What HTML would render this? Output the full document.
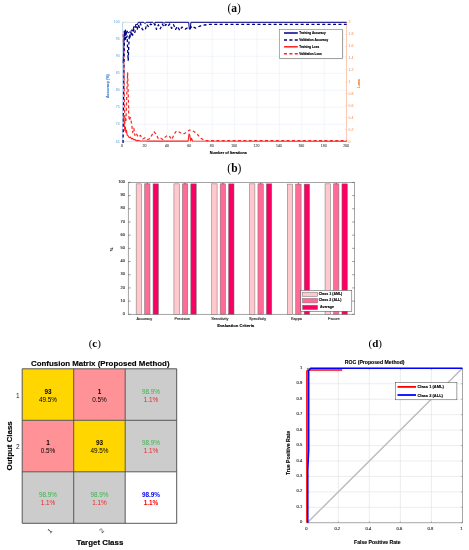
<!DOCTYPE html>
<html><head><meta charset="utf-8"><title>Figure</title>
<style>html,body{margin:0;padding:0;background:#fff;width:469px;height:550px;overflow:hidden}svg{display:block}</style>
</head><body>
<svg width="469" height="550" viewBox="0 0 469 550">
<defs><filter id="soft" x="-5%" y="-5%" width="110%" height="110%"><feGaussianBlur stdDeviation="0.3"/></filter></defs>
<g filter="url(#soft)"><text x="234.15" y="12.2" font-size="11.5" fill="#000" text-anchor="middle" font-weight="normal" font-family='"Liberation Serif", "Times New Roman", serif'  >(<tspan font-weight="bold">a</tspan>)</text>
<text x="234.4" y="171.8" font-size="11.5" fill="#000" text-anchor="middle" font-weight="normal" font-family='"Liberation Serif", "Times New Roman", serif'  >(<tspan font-weight="bold">b</tspan>)</text>
<text x="94.75" y="346.7" font-size="11" fill="#000" text-anchor="middle" font-weight="normal" font-family='"Liberation Serif", "Times New Roman", serif'  >(<tspan font-weight="bold">c</tspan>)</text>
<text x="375.3" y="346.5" font-size="11" fill="#000" text-anchor="middle" font-weight="normal" font-family='"Liberation Serif", "Times New Roman", serif'  >(<tspan font-weight="bold">d</tspan>)</text>
<line x1="145" y1="22.3" x2="145" y2="141.3" stroke="#e8eef7" stroke-width="0.6" />
<line x1="167.4" y1="22.3" x2="167.4" y2="141.3" stroke="#e8eef7" stroke-width="0.6" />
<line x1="189.8" y1="22.3" x2="189.8" y2="141.3" stroke="#e8eef7" stroke-width="0.6" />
<line x1="212.2" y1="22.3" x2="212.2" y2="141.3" stroke="#e8eef7" stroke-width="0.6" />
<line x1="234.6" y1="22.3" x2="234.6" y2="141.3" stroke="#e8eef7" stroke-width="0.6" />
<line x1="257" y1="22.3" x2="257" y2="141.3" stroke="#e8eef7" stroke-width="0.6" />
<line x1="279.4" y1="22.3" x2="279.4" y2="141.3" stroke="#e8eef7" stroke-width="0.6" />
<line x1="301.8" y1="22.3" x2="301.8" y2="141.3" stroke="#e8eef7" stroke-width="0.6" />
<line x1="324.2" y1="22.3" x2="324.2" y2="141.3" stroke="#e8eef7" stroke-width="0.6" />
<line x1="122.6" y1="124.3" x2="346.6" y2="124.3" stroke="#e8eef7" stroke-width="0.6" />
<line x1="122.6" y1="107.3" x2="346.6" y2="107.3" stroke="#e8eef7" stroke-width="0.6" />
<line x1="122.6" y1="90.3" x2="346.6" y2="90.3" stroke="#e8eef7" stroke-width="0.6" />
<line x1="122.6" y1="73.3" x2="346.6" y2="73.3" stroke="#e8eef7" stroke-width="0.6" />
<line x1="122.6" y1="56.3" x2="346.6" y2="56.3" stroke="#e8eef7" stroke-width="0.6" />
<line x1="122.6" y1="39.3" x2="346.6" y2="39.3" stroke="#e8eef7" stroke-width="0.6" />
<line x1="122.6" y1="22.3" x2="346.6" y2="22.3" stroke="#c8c8c8" stroke-width="0.6" />
<line x1="122.6" y1="141.3" x2="346.6" y2="141.3" stroke="#c8c8c8" stroke-width="0.6" />
<line x1="122.6" y1="22.3" x2="122.6" y2="141.3" stroke="#a9cbeb" stroke-width="0.8" />
<line x1="346.6" y1="22.3" x2="346.6" y2="141.3" stroke="#f6b89a" stroke-width="0.8" />
<line x1="122.6" y1="141.3" x2="124.1" y2="141.3" stroke="#a9cbeb" stroke-width="0.5" />
<line x1="122.6" y1="124.3" x2="124.1" y2="124.3" stroke="#a9cbeb" stroke-width="0.5" />
<line x1="122.6" y1="107.3" x2="124.1" y2="107.3" stroke="#a9cbeb" stroke-width="0.5" />
<line x1="122.6" y1="90.3" x2="124.1" y2="90.3" stroke="#a9cbeb" stroke-width="0.5" />
<line x1="122.6" y1="73.3" x2="124.1" y2="73.3" stroke="#a9cbeb" stroke-width="0.5" />
<line x1="122.6" y1="56.3" x2="124.1" y2="56.3" stroke="#a9cbeb" stroke-width="0.5" />
<line x1="122.6" y1="39.3" x2="124.1" y2="39.3" stroke="#a9cbeb" stroke-width="0.5" />
<line x1="122.6" y1="22.3" x2="124.1" y2="22.3" stroke="#a9cbeb" stroke-width="0.5" />
<line x1="345.1" y1="141.3" x2="346.6" y2="141.3" stroke="#f6b89a" stroke-width="0.5" />
<line x1="345.1" y1="129.4" x2="346.6" y2="129.4" stroke="#f6b89a" stroke-width="0.5" />
<line x1="345.1" y1="117.5" x2="346.6" y2="117.5" stroke="#f6b89a" stroke-width="0.5" />
<line x1="345.1" y1="105.6" x2="346.6" y2="105.6" stroke="#f6b89a" stroke-width="0.5" />
<line x1="345.1" y1="93.7" x2="346.6" y2="93.7" stroke="#f6b89a" stroke-width="0.5" />
<line x1="345.1" y1="81.8" x2="346.6" y2="81.8" stroke="#f6b89a" stroke-width="0.5" />
<line x1="345.1" y1="69.9" x2="346.6" y2="69.9" stroke="#f6b89a" stroke-width="0.5" />
<line x1="345.1" y1="58" x2="346.6" y2="58" stroke="#f6b89a" stroke-width="0.5" />
<line x1="345.1" y1="46.1" x2="346.6" y2="46.1" stroke="#f6b89a" stroke-width="0.5" />
<line x1="345.1" y1="34.2" x2="346.6" y2="34.2" stroke="#f6b89a" stroke-width="0.5" />
<line x1="345.1" y1="22.3" x2="346.6" y2="22.3" stroke="#f6b89a" stroke-width="0.5" />
<text x="119.6" y="142.52" font-size="3.5" fill="#5b9bd5" text-anchor="end" font-weight="normal" font-family='"Liberation Sans", Arial, sans-serif'  >65</text>
<text x="119.6" y="125.41" font-size="3.5" fill="#5b9bd5" text-anchor="end" font-weight="normal" font-family='"Liberation Sans", Arial, sans-serif'  >70</text>
<text x="119.6" y="108.3" font-size="3.5" fill="#5b9bd5" text-anchor="end" font-weight="normal" font-family='"Liberation Sans", Arial, sans-serif'  >75</text>
<text x="119.6" y="91.19" font-size="3.5" fill="#5b9bd5" text-anchor="end" font-weight="normal" font-family='"Liberation Sans", Arial, sans-serif'  >80</text>
<text x="119.6" y="74.08" font-size="3.5" fill="#5b9bd5" text-anchor="end" font-weight="normal" font-family='"Liberation Sans", Arial, sans-serif'  >85</text>
<text x="119.6" y="56.97" font-size="3.5" fill="#5b9bd5" text-anchor="end" font-weight="normal" font-family='"Liberation Sans", Arial, sans-serif'  >90</text>
<text x="119.6" y="39.86" font-size="3.5" fill="#5b9bd5" text-anchor="end" font-weight="normal" font-family='"Liberation Sans", Arial, sans-serif'  >95</text>
<text x="119.6" y="22.75" font-size="3.5" fill="#5b9bd5" text-anchor="end" font-weight="normal" font-family='"Liberation Sans", Arial, sans-serif'  >100</text>
<text x="348.6" y="142.85" font-size="3.5" fill="#f0884a" text-anchor="start" font-weight="normal" font-family='"Liberation Sans", Arial, sans-serif'  >0</text>
<text x="348.6" y="130.82" font-size="3.5" fill="#f0884a" text-anchor="start" font-weight="normal" font-family='"Liberation Sans", Arial, sans-serif'  >0.2</text>
<text x="348.6" y="118.79" font-size="3.5" fill="#f0884a" text-anchor="start" font-weight="normal" font-family='"Liberation Sans", Arial, sans-serif'  >0.4</text>
<text x="348.6" y="106.76" font-size="3.5" fill="#f0884a" text-anchor="start" font-weight="normal" font-family='"Liberation Sans", Arial, sans-serif'  >0.6</text>
<text x="348.6" y="94.73" font-size="3.5" fill="#f0884a" text-anchor="start" font-weight="normal" font-family='"Liberation Sans", Arial, sans-serif'  >0.8</text>
<text x="348.6" y="82.7" font-size="3.5" fill="#f0884a" text-anchor="start" font-weight="normal" font-family='"Liberation Sans", Arial, sans-serif'  >1</text>
<text x="348.6" y="70.67" font-size="3.5" fill="#f0884a" text-anchor="start" font-weight="normal" font-family='"Liberation Sans", Arial, sans-serif'  >1.2</text>
<text x="348.6" y="58.64" font-size="3.5" fill="#f0884a" text-anchor="start" font-weight="normal" font-family='"Liberation Sans", Arial, sans-serif'  >1.4</text>
<text x="348.6" y="46.61" font-size="3.5" fill="#f0884a" text-anchor="start" font-weight="normal" font-family='"Liberation Sans", Arial, sans-serif'  >1.6</text>
<text x="348.6" y="34.58" font-size="3.5" fill="#f0884a" text-anchor="start" font-weight="normal" font-family='"Liberation Sans", Arial, sans-serif'  >1.8</text>
<text x="348.6" y="22.55" font-size="3.5" fill="#f0884a" text-anchor="start" font-weight="normal" font-family='"Liberation Sans", Arial, sans-serif'  >2</text>
<text x="122.1" y="146.9" font-size="3.5" fill="#595959" text-anchor="middle" font-weight="normal" font-family='"Liberation Sans", Arial, sans-serif' stroke="#595959" stroke-width="0.12" >0</text>
<text x="144.5" y="146.9" font-size="3.5" fill="#595959" text-anchor="middle" font-weight="normal" font-family='"Liberation Sans", Arial, sans-serif' stroke="#595959" stroke-width="0.12" >20</text>
<text x="166.9" y="146.9" font-size="3.5" fill="#595959" text-anchor="middle" font-weight="normal" font-family='"Liberation Sans", Arial, sans-serif' stroke="#595959" stroke-width="0.12" >40</text>
<text x="189.3" y="146.9" font-size="3.5" fill="#595959" text-anchor="middle" font-weight="normal" font-family='"Liberation Sans", Arial, sans-serif' stroke="#595959" stroke-width="0.12" >60</text>
<text x="211.7" y="146.9" font-size="3.5" fill="#595959" text-anchor="middle" font-weight="normal" font-family='"Liberation Sans", Arial, sans-serif' stroke="#595959" stroke-width="0.12" >80</text>
<text x="234.1" y="146.9" font-size="3.5" fill="#595959" text-anchor="middle" font-weight="normal" font-family='"Liberation Sans", Arial, sans-serif' stroke="#595959" stroke-width="0.12" >100</text>
<text x="256.5" y="146.9" font-size="3.5" fill="#595959" text-anchor="middle" font-weight="normal" font-family='"Liberation Sans", Arial, sans-serif' stroke="#595959" stroke-width="0.12" >120</text>
<text x="278.9" y="146.9" font-size="3.5" fill="#595959" text-anchor="middle" font-weight="normal" font-family='"Liberation Sans", Arial, sans-serif' stroke="#595959" stroke-width="0.12" >140</text>
<text x="301.3" y="146.9" font-size="3.5" fill="#595959" text-anchor="middle" font-weight="normal" font-family='"Liberation Sans", Arial, sans-serif' stroke="#595959" stroke-width="0.12" >160</text>
<text x="323.7" y="146.9" font-size="3.5" fill="#595959" text-anchor="middle" font-weight="normal" font-family='"Liberation Sans", Arial, sans-serif' stroke="#595959" stroke-width="0.12" >180</text>
<text x="346.1" y="146.9" font-size="3.5" fill="#595959" text-anchor="middle" font-weight="normal" font-family='"Liberation Sans", Arial, sans-serif' stroke="#595959" stroke-width="0.12" >200</text>
<text x="228.4" y="153.6" font-size="3.8" fill="#000" text-anchor="middle" font-weight="bold" font-family='"Liberation Sans", Arial, sans-serif' stroke="#000" stroke-width="0.12" >Number of Iterations</text>
<text x="108.85" y="86" font-size="3.75" fill="#3b82cc" text-anchor="middle" font-weight="bold" font-family='"Liberation Sans", Arial, sans-serif' stroke="#3b82cc" stroke-width="0.12" transform="rotate(-90 108.85 86)">Accuracy (%)</text>
<text x="359.75" y="83.5" font-size="3.75" fill="#ed7d31" text-anchor="middle" font-weight="bold" font-family='"Liberation Sans", Arial, sans-serif' stroke="#ed7d31" stroke-width="0.12" transform="rotate(-90 359.75 83.5)">Loss</text>
<polyline points="123.16,63.1 123.72,49.5 124.28,30.8 124.84,35.9 125.4,29.78 125.96,34.2 127.08,30.8 128.2,33.18 129.32,31.82 130.44,32.84 131.56,29.78 132.68,31.14 133.8,26.38 134.92,27.4 136.04,24 137.16,25.02 138.28,22.3 143.88,22.3 145,23.66 146.12,22.3 152.84,22.3 153.96,23.66 155.08,22.3 162.92,22.3 164.04,23.32 165.16,22.3 188.68,22.3 189.35,29.1 190.25,29.1 190.92,22.3 346.6,22.3" fill="none" stroke="#000080" stroke-width="1.0"  stroke-linejoin="round" />
<polyline points="123.05,143 123.5,110.7 123.94,69.9 124.39,39.3 124.84,34.2 125.4,39.3 125.96,33.18 126.52,37.6 127.08,35.9 127.64,49.5 128.2,60.72 128.76,46.1 129.32,34.2 130.44,37.6 131.56,31.82 132.68,35.22 133.8,29.1 134.92,32.5 136.04,26.38 137.16,29.78 138.28,24.68 139.4,27.4 140.52,23.66 142.2,29.1 143.6,30.46 145.45,29.1 146.68,24.34 148.7,27.06 150.6,24 153.85,25.7 155.08,24 156.42,29.44 158.44,24.68 160.23,28.76 162.36,24 164.04,27.06 165.72,24.34 167.85,26.38 169.64,24 171.66,28.42 173.56,24.68 175.58,29.44 177.48,26.38 179.72,30.46 181.96,27.06 185.32,29.1 187.56,27.74 189.8,28.76 192.04,26.04 195.4,28.08 199.88,26.04 204.36,25.02 209.96,24.34 346.6,24.34" fill="none" stroke="#000080" stroke-width="1.3" stroke-dasharray="3,2.4" stroke-linejoin="round" />
<polyline points="123.05,116.31 123.5,115.12 123.94,119.88 124.39,126.43 124.84,130.59 125.4,127.02 125.96,132.38 126.52,130.59 127.08,134.76 128.2,135.95 129.32,137.73 130.44,137.14 131.56,138.92 132.68,138.33 133.8,139.81 134.92,139.52 136.04,140.59 138.28,140.41 140.52,141 145,140.94 149.48,141.12 188.12,141.12 189.02,134.16 189.8,135.35 190.58,140.71 191.59,138.33 192.49,141 346.6,141.18" fill="none" stroke="#ff2020" stroke-width="1.1"  stroke-linejoin="round" />
<polyline points="123.16,34.2 123.72,52.05 124.28,93.7 124.84,123.45 125.4,117.5 125.96,120.48 127.08,84.78 127.64,72.88 128.2,93.7 128.76,114.53 129.32,120.48 130.44,117.5 131.56,123.45 132.68,132.38 133.8,128.21 134.92,135.35 136.04,132.97 138.28,137.14 140.52,135.35 142.76,138.92 145,137.73 147.24,139.52 149.48,138.92 151.72,135.35 153.96,131.78 156.2,134.16 158.44,138.92 160.68,138.33 162.92,139.52 165.16,137.14 167.4,135.35 169.64,136.54 171.88,139.52 174.12,134.16 176.36,131.19 178.6,131.78 180.84,132.97 183.08,134.16 185.32,132.97 187.56,131.19 189.8,130 192.04,130.59 194.28,131.78 196.52,133.56 198.76,135.95 201,138.33 203.24,139.81 205.48,140.59 209.96,140.71 346.6,140.71" fill="none" stroke="#ff2020" stroke-width="1.2" stroke-dasharray="3,2.4" stroke-linejoin="round" />
<rect x="280.2" y="30.1" width="63" height="29" fill="#808080" stroke="none" stroke-width="1" opacity="0.35"/>
<rect x="279.4" y="29.3" width="63" height="29" fill="#fff" stroke="#606060" stroke-width="0.5" />
<line x1="284" y1="33" x2="297.8" y2="33" stroke="#000080" stroke-width="1.5" />
<text x="299.3" y="34.1" font-size="3.05" fill="#000" text-anchor="start" font-weight="bold" font-family='"Liberation Sans", Arial, sans-serif' stroke="#000" stroke-width="0.12" >Training Accuracy</text>
<line x1="284" y1="39.9" x2="297.8" y2="39.9" stroke="#000080" stroke-width="1.5" stroke-dasharray="3,2.4"/>
<text x="299.3" y="41" font-size="3.05" fill="#000" text-anchor="start" font-weight="bold" font-family='"Liberation Sans", Arial, sans-serif' stroke="#000" stroke-width="0.12" >Validation Accuracy</text>
<line x1="284" y1="46.8" x2="297.8" y2="46.8" stroke="#ff2020" stroke-width="1.5" />
<text x="299.3" y="47.9" font-size="3.05" fill="#000" text-anchor="start" font-weight="bold" font-family='"Liberation Sans", Arial, sans-serif' stroke="#000" stroke-width="0.12" >Training Loss</text>
<line x1="284" y1="53.7" x2="297.8" y2="53.7" stroke="#ff2020" stroke-width="1.5" stroke-dasharray="3,2.4"/>
<text x="299.3" y="54.8" font-size="3.05" fill="#000" text-anchor="start" font-weight="bold" font-family='"Liberation Sans", Arial, sans-serif' stroke="#000" stroke-width="0.12" >Validation Loss</text>
<rect x="128.3" y="182.4" width="226.2" height="131.9" fill="#fff" stroke="#7f7f7f" stroke-width="0.7" />
<line x1="128.3" y1="314.3" x2="130.6" y2="314.3" stroke="#555" stroke-width="0.6" />
<line x1="352.2" y1="314.3" x2="354.5" y2="314.3" stroke="#555" stroke-width="0.6" />
<text x="124.9" y="314.9" font-size="3.9" fill="#262626" text-anchor="end" font-weight="normal" font-family='"Liberation Sans", Arial, sans-serif' stroke="#262626" stroke-width="0.12" >0</text>
<line x1="128.3" y1="301.11" x2="130.6" y2="301.11" stroke="#555" stroke-width="0.6" />
<line x1="352.2" y1="301.11" x2="354.5" y2="301.11" stroke="#555" stroke-width="0.6" />
<text x="124.9" y="301.71" font-size="3.9" fill="#262626" text-anchor="end" font-weight="normal" font-family='"Liberation Sans", Arial, sans-serif' stroke="#262626" stroke-width="0.12" >10</text>
<line x1="128.3" y1="287.92" x2="130.6" y2="287.92" stroke="#555" stroke-width="0.6" />
<line x1="352.2" y1="287.92" x2="354.5" y2="287.92" stroke="#555" stroke-width="0.6" />
<text x="124.9" y="288.52" font-size="3.9" fill="#262626" text-anchor="end" font-weight="normal" font-family='"Liberation Sans", Arial, sans-serif' stroke="#262626" stroke-width="0.12" >20</text>
<line x1="128.3" y1="274.73" x2="130.6" y2="274.73" stroke="#555" stroke-width="0.6" />
<line x1="352.2" y1="274.73" x2="354.5" y2="274.73" stroke="#555" stroke-width="0.6" />
<text x="124.9" y="275.33" font-size="3.9" fill="#262626" text-anchor="end" font-weight="normal" font-family='"Liberation Sans", Arial, sans-serif' stroke="#262626" stroke-width="0.12" >30</text>
<line x1="128.3" y1="261.54" x2="130.6" y2="261.54" stroke="#555" stroke-width="0.6" />
<line x1="352.2" y1="261.54" x2="354.5" y2="261.54" stroke="#555" stroke-width="0.6" />
<text x="124.9" y="262.14" font-size="3.9" fill="#262626" text-anchor="end" font-weight="normal" font-family='"Liberation Sans", Arial, sans-serif' stroke="#262626" stroke-width="0.12" >40</text>
<line x1="128.3" y1="248.35" x2="130.6" y2="248.35" stroke="#555" stroke-width="0.6" />
<line x1="352.2" y1="248.35" x2="354.5" y2="248.35" stroke="#555" stroke-width="0.6" />
<text x="124.9" y="248.95" font-size="3.9" fill="#262626" text-anchor="end" font-weight="normal" font-family='"Liberation Sans", Arial, sans-serif' stroke="#262626" stroke-width="0.12" >50</text>
<line x1="128.3" y1="235.16" x2="130.6" y2="235.16" stroke="#555" stroke-width="0.6" />
<line x1="352.2" y1="235.16" x2="354.5" y2="235.16" stroke="#555" stroke-width="0.6" />
<text x="124.9" y="235.76" font-size="3.9" fill="#262626" text-anchor="end" font-weight="normal" font-family='"Liberation Sans", Arial, sans-serif' stroke="#262626" stroke-width="0.12" >60</text>
<line x1="128.3" y1="221.97" x2="130.6" y2="221.97" stroke="#555" stroke-width="0.6" />
<line x1="352.2" y1="221.97" x2="354.5" y2="221.97" stroke="#555" stroke-width="0.6" />
<text x="124.9" y="222.57" font-size="3.9" fill="#262626" text-anchor="end" font-weight="normal" font-family='"Liberation Sans", Arial, sans-serif' stroke="#262626" stroke-width="0.12" >70</text>
<line x1="128.3" y1="208.78" x2="130.6" y2="208.78" stroke="#555" stroke-width="0.6" />
<line x1="352.2" y1="208.78" x2="354.5" y2="208.78" stroke="#555" stroke-width="0.6" />
<text x="124.9" y="209.38" font-size="3.9" fill="#262626" text-anchor="end" font-weight="normal" font-family='"Liberation Sans", Arial, sans-serif' stroke="#262626" stroke-width="0.12" >80</text>
<line x1="128.3" y1="195.59" x2="130.6" y2="195.59" stroke="#555" stroke-width="0.6" />
<line x1="352.2" y1="195.59" x2="354.5" y2="195.59" stroke="#555" stroke-width="0.6" />
<text x="124.9" y="196.19" font-size="3.9" fill="#262626" text-anchor="end" font-weight="normal" font-family='"Liberation Sans", Arial, sans-serif' stroke="#262626" stroke-width="0.12" >90</text>
<line x1="128.3" y1="182.4" x2="130.6" y2="182.4" stroke="#555" stroke-width="0.6" />
<line x1="352.2" y1="182.4" x2="354.5" y2="182.4" stroke="#555" stroke-width="0.6" />
<text x="124.9" y="183" font-size="3.9" fill="#262626" text-anchor="end" font-weight="normal" font-family='"Liberation Sans", Arial, sans-serif' stroke="#262626" stroke-width="0.12" >100</text>
<rect x="136.15" y="183.85" width="5.4" height="130.45" fill="#ffc8cc" stroke="#6f6f6f" stroke-width="0.5" />
<rect x="144.6" y="183.85" width="5.4" height="130.45" fill="#ff6a96" stroke="#6f6f6f" stroke-width="0.5" />
<rect x="153.05" y="183.85" width="5.4" height="130.45" fill="#fa0062" stroke="#6f6f6f" stroke-width="0.5" />
<line x1="147.3" y1="183.32" x2="147.3" y2="184.38" stroke="#333" stroke-width="0.4" />
<line x1="146.5" y1="183.32" x2="148.1" y2="183.32" stroke="#333" stroke-width="0.4" />
<text x="144.3" y="319.6" font-size="3.8" fill="#262626" text-anchor="middle" font-weight="normal" font-family='"Liberation Sans", Arial, sans-serif' stroke="#262626" stroke-width="0.12" >Accuracy</text>
<line x1="147.3" y1="314.3" x2="147.3" y2="312.8" stroke="#7f7f7f" stroke-width="0.5" />
<rect x="173.93" y="183.85" width="5.4" height="130.45" fill="#ffc8cc" stroke="#6f6f6f" stroke-width="0.5" />
<rect x="182.38" y="183.85" width="5.4" height="130.45" fill="#ff6a96" stroke="#6f6f6f" stroke-width="0.5" />
<rect x="190.83" y="183.85" width="5.4" height="130.45" fill="#fa0062" stroke="#6f6f6f" stroke-width="0.5" />
<line x1="185.08" y1="183.32" x2="185.08" y2="184.38" stroke="#333" stroke-width="0.4" />
<line x1="184.28" y1="183.32" x2="185.88" y2="183.32" stroke="#333" stroke-width="0.4" />
<text x="182.38" y="319.6" font-size="3.8" fill="#262626" text-anchor="middle" font-weight="normal" font-family='"Liberation Sans", Arial, sans-serif' stroke="#262626" stroke-width="0.12" >Precision</text>
<line x1="185.08" y1="314.3" x2="185.08" y2="312.8" stroke="#7f7f7f" stroke-width="0.5" />
<rect x="211.71" y="183.85" width="5.4" height="130.45" fill="#ffc8cc" stroke="#6f6f6f" stroke-width="0.5" />
<rect x="220.16" y="183.85" width="5.4" height="130.45" fill="#ff6a96" stroke="#6f6f6f" stroke-width="0.5" />
<rect x="228.61" y="183.85" width="5.4" height="130.45" fill="#fa0062" stroke="#6f6f6f" stroke-width="0.5" />
<line x1="222.86" y1="183.32" x2="222.86" y2="184.38" stroke="#333" stroke-width="0.4" />
<line x1="222.06" y1="183.32" x2="223.66" y2="183.32" stroke="#333" stroke-width="0.4" />
<text x="219.86" y="319.6" font-size="3.8" fill="#262626" text-anchor="middle" font-weight="normal" font-family='"Liberation Sans", Arial, sans-serif' stroke="#262626" stroke-width="0.12" >Sensitivity</text>
<line x1="222.86" y1="314.3" x2="222.86" y2="312.8" stroke="#7f7f7f" stroke-width="0.5" />
<rect x="249.49" y="183.85" width="5.4" height="130.45" fill="#ffc8cc" stroke="#6f6f6f" stroke-width="0.5" />
<rect x="257.94" y="183.85" width="5.4" height="130.45" fill="#ff6a96" stroke="#6f6f6f" stroke-width="0.5" />
<rect x="266.39" y="183.85" width="5.4" height="130.45" fill="#fa0062" stroke="#6f6f6f" stroke-width="0.5" />
<line x1="260.64" y1="183.32" x2="260.64" y2="184.38" stroke="#333" stroke-width="0.4" />
<line x1="259.84" y1="183.32" x2="261.44" y2="183.32" stroke="#333" stroke-width="0.4" />
<text x="257.64" y="319.6" font-size="3.8" fill="#262626" text-anchor="middle" font-weight="normal" font-family='"Liberation Sans", Arial, sans-serif' stroke="#262626" stroke-width="0.12" >Specificity</text>
<line x1="260.64" y1="314.3" x2="260.64" y2="312.8" stroke="#7f7f7f" stroke-width="0.5" />
<rect x="287.27" y="184.11" width="5.4" height="130.19" fill="#ffc8cc" stroke="#6f6f6f" stroke-width="0.5" />
<rect x="295.72" y="184.11" width="5.4" height="130.19" fill="#ff6a96" stroke="#6f6f6f" stroke-width="0.5" />
<rect x="304.17" y="184.11" width="5.4" height="130.19" fill="#fa0062" stroke="#6f6f6f" stroke-width="0.5" />
<line x1="298.42" y1="183.32" x2="298.42" y2="184.38" stroke="#333" stroke-width="0.4" />
<line x1="297.62" y1="183.32" x2="299.22" y2="183.32" stroke="#333" stroke-width="0.4" />
<text x="296.42" y="320.2" font-size="3.8" fill="#262626" text-anchor="middle" font-weight="normal" font-family='"Liberation Sans", Arial, sans-serif' stroke="#262626" stroke-width="0.12" >Kappa</text>
<line x1="298.42" y1="314.3" x2="298.42" y2="312.8" stroke="#7f7f7f" stroke-width="0.5" />
<rect x="325.05" y="183.85" width="5.4" height="130.45" fill="#ffc8cc" stroke="#6f6f6f" stroke-width="0.5" />
<rect x="333.5" y="183.85" width="5.4" height="130.45" fill="#ff6a96" stroke="#6f6f6f" stroke-width="0.5" />
<rect x="341.95" y="183.85" width="5.4" height="130.45" fill="#fa0062" stroke="#6f6f6f" stroke-width="0.5" />
<line x1="336.2" y1="183.32" x2="336.2" y2="184.38" stroke="#333" stroke-width="0.4" />
<line x1="335.4" y1="183.32" x2="337" y2="183.32" stroke="#333" stroke-width="0.4" />
<text x="333.9" y="319.6" font-size="3.8" fill="#262626" text-anchor="middle" font-weight="normal" font-family='"Liberation Sans", Arial, sans-serif' stroke="#262626" stroke-width="0.12" >Fscore</text>
<line x1="336.2" y1="314.3" x2="336.2" y2="312.8" stroke="#7f7f7f" stroke-width="0.5" />
<text x="235.7" y="326.9" font-size="4.2" fill="#000" text-anchor="middle" font-weight="bold" font-family='"Liberation Sans", Arial, sans-serif' stroke="#000" stroke-width="0.12" >Evaluation Criteria</text>
<text x="112.5" y="249.5" font-size="4.0" fill="#000" text-anchor="middle" font-weight="normal" font-family='"Liberation Sans", Arial, sans-serif' stroke="#000" stroke-width="0.12" transform="rotate(-90 112.5 249.5)">%</text>
<rect x="300.8" y="290.3" width="51" height="21" fill="#fff" stroke="#404040" stroke-width="0.5" />
<rect x="302.6" y="292.2" width="15" height="4.4" fill="#ffc8cc" stroke="#6f6f6f" stroke-width="0.5" />
<text x="318.8" y="294.8" font-size="3.55" fill="#000" text-anchor="start" font-weight="bold" font-family='"Liberation Sans", Arial, sans-serif' stroke="#000" stroke-width="0.12" >Class 1 (AML)</text>
<rect x="302.6" y="298.5" width="15" height="4.4" fill="#ff6a96" stroke="#6f6f6f" stroke-width="0.5" />
<text x="318.8" y="301.1" font-size="3.55" fill="#000" text-anchor="start" font-weight="bold" font-family='"Liberation Sans", Arial, sans-serif' stroke="#000" stroke-width="0.12" >Class 2 (ALL)</text>
<rect x="302.6" y="305.2" width="15" height="4.4" fill="#fa0062" stroke="#6f6f6f" stroke-width="0.5" />
<text x="320" y="307.8" font-size="3.55" fill="#000" text-anchor="start" font-weight="bold" font-family='"Liberation Sans", Arial, sans-serif' stroke="#000" stroke-width="0.12" >Average</text>
<rect x="22.2" y="368.8" width="51.5" height="51.5" fill="#ffd600" stroke="none" stroke-width="1" />
<text x="47.95" y="393.55" font-size="6.4" fill="#000" text-anchor="middle" font-weight="bold" font-family='"Liberation Sans", Arial, sans-serif'  >93</text>
<text x="47.95" y="401.75" font-size="6.4" fill="#000" text-anchor="middle" font-weight="normal" font-family='"Liberation Sans", Arial, sans-serif'  >49.5%</text>
<rect x="73.7" y="368.8" width="51.5" height="51.5" fill="#fe9296" stroke="none" stroke-width="1" />
<text x="99.45" y="393.55" font-size="6.4" fill="#000" text-anchor="middle" font-weight="bold" font-family='"Liberation Sans", Arial, sans-serif'  >1</text>
<text x="99.45" y="401.75" font-size="6.4" fill="#000" text-anchor="middle" font-weight="normal" font-family='"Liberation Sans", Arial, sans-serif'  >0.5%</text>
<rect x="125.2" y="368.8" width="51.5" height="51.5" fill="#cccccc" stroke="none" stroke-width="1" />
<text x="150.95" y="393.55" font-size="6.4" fill="#3cb44b" text-anchor="middle" font-weight="normal" font-family='"Liberation Sans", Arial, sans-serif'  >98.9%</text>
<text x="150.95" y="401.75" font-size="6.4" fill="#e8272b" text-anchor="middle" font-weight="normal" font-family='"Liberation Sans", Arial, sans-serif'  >1.1%</text>
<rect x="22.2" y="420.3" width="51.5" height="51.5" fill="#fe9296" stroke="none" stroke-width="1" />
<text x="47.95" y="445.05" font-size="6.4" fill="#000" text-anchor="middle" font-weight="bold" font-family='"Liberation Sans", Arial, sans-serif'  >1</text>
<text x="47.95" y="453.25" font-size="6.4" fill="#000" text-anchor="middle" font-weight="normal" font-family='"Liberation Sans", Arial, sans-serif'  >0.5%</text>
<rect x="73.7" y="420.3" width="51.5" height="51.5" fill="#ffd600" stroke="none" stroke-width="1" />
<text x="99.45" y="445.05" font-size="6.4" fill="#000" text-anchor="middle" font-weight="bold" font-family='"Liberation Sans", Arial, sans-serif'  >93</text>
<text x="99.45" y="453.25" font-size="6.4" fill="#000" text-anchor="middle" font-weight="normal" font-family='"Liberation Sans", Arial, sans-serif'  >49.5%</text>
<rect x="125.2" y="420.3" width="51.5" height="51.5" fill="#cccccc" stroke="none" stroke-width="1" />
<text x="150.95" y="445.05" font-size="6.4" fill="#3cb44b" text-anchor="middle" font-weight="normal" font-family='"Liberation Sans", Arial, sans-serif'  >98.9%</text>
<text x="150.95" y="453.25" font-size="6.4" fill="#e8272b" text-anchor="middle" font-weight="normal" font-family='"Liberation Sans", Arial, sans-serif'  >1.1%</text>
<rect x="22.2" y="471.8" width="51.5" height="51.5" fill="#cccccc" stroke="none" stroke-width="1" />
<text x="47.95" y="496.55" font-size="6.4" fill="#3cb44b" text-anchor="middle" font-weight="normal" font-family='"Liberation Sans", Arial, sans-serif'  >98.9%</text>
<text x="47.95" y="504.75" font-size="6.4" fill="#e8272b" text-anchor="middle" font-weight="normal" font-family='"Liberation Sans", Arial, sans-serif'  >1.1%</text>
<rect x="73.7" y="471.8" width="51.5" height="51.5" fill="#cccccc" stroke="none" stroke-width="1" />
<text x="99.45" y="496.55" font-size="6.4" fill="#3cb44b" text-anchor="middle" font-weight="normal" font-family='"Liberation Sans", Arial, sans-serif'  >98.9%</text>
<text x="99.45" y="504.75" font-size="6.4" fill="#e8272b" text-anchor="middle" font-weight="normal" font-family='"Liberation Sans", Arial, sans-serif'  >1.1%</text>
<rect x="125.2" y="471.8" width="51.5" height="51.5" fill="#ffffff" stroke="none" stroke-width="1" />
<text x="150.95" y="496.55" font-size="6.4" fill="#0000ff" text-anchor="middle" font-weight="bold" font-family='"Liberation Sans", Arial, sans-serif'  >98.9%</text>
<text x="150.95" y="504.75" font-size="6.4" fill="#ff0000" text-anchor="middle" font-weight="bold" font-family='"Liberation Sans", Arial, sans-serif'  >1.1%</text>
<line x1="22.2" y1="368.8" x2="22.2" y2="523.3" stroke="#505050" stroke-width="0.95" />
<line x1="22.2" y1="368.8" x2="176.7" y2="368.8" stroke="#505050" stroke-width="0.95" />
<line x1="73.7" y1="368.8" x2="73.7" y2="523.3" stroke="#505050" stroke-width="0.95" />
<line x1="22.2" y1="420.3" x2="176.7" y2="420.3" stroke="#505050" stroke-width="0.95" />
<line x1="125.2" y1="368.8" x2="125.2" y2="523.3" stroke="#505050" stroke-width="0.95" />
<line x1="22.2" y1="471.8" x2="176.7" y2="471.8" stroke="#505050" stroke-width="0.95" />
<line x1="176.7" y1="368.8" x2="176.7" y2="523.3" stroke="#505050" stroke-width="0.95" />
<line x1="22.2" y1="523.3" x2="176.7" y2="523.3" stroke="#505050" stroke-width="0.95" />
<text x="100.3" y="365.8" font-size="7.9" fill="#000" text-anchor="middle" font-weight="bold" font-family='"Liberation Sans", Arial, sans-serif'  stroke="#000" stroke-width="0.15">Confusion Matrix (Proposed Method)</text>
<text x="17.8" y="397.55" font-size="6.5" fill="#262626" text-anchor="middle" font-weight="normal" font-family='"Liberation Sans", Arial, sans-serif'  >1</text>
<text x="17.8" y="449.45" font-size="6.5" fill="#262626" text-anchor="middle" font-weight="normal" font-family='"Liberation Sans", Arial, sans-serif'  >2</text>
<text x="51.35" y="532.35" font-size="6.5" fill="#262626" text-anchor="middle" font-weight="normal" font-family='"Liberation Sans", Arial, sans-serif'  transform="rotate(-45 51.35 532.35)">1</text>
<text x="103.25" y="532.25" font-size="6.5" fill="#262626" text-anchor="middle" font-weight="normal" font-family='"Liberation Sans", Arial, sans-serif'  transform="rotate(-45 103.25 532.25)">2</text>
<text x="99.9" y="545" font-size="7.9" fill="#000" text-anchor="middle" font-weight="bold" font-family='"Liberation Sans", Arial, sans-serif'  stroke="#000" stroke-width="0.15">Target Class</text>
<text x="11.85" y="445.85" font-size="7.9" fill="#000" text-anchor="middle" font-weight="bold" font-family='"Liberation Sans", Arial, sans-serif'  stroke="#000" stroke-width="0.15" transform="rotate(-90 11.85 445.85)">Output Class</text>
<line x1="338.32" y1="368.3" x2="338.32" y2="522.8" stroke="#e0e0e0" stroke-width="0.6" />
<line x1="369.34" y1="368.3" x2="369.34" y2="522.8" stroke="#e0e0e0" stroke-width="0.6" />
<line x1="400.36" y1="368.3" x2="400.36" y2="522.8" stroke="#e0e0e0" stroke-width="0.6" />
<line x1="431.38" y1="368.3" x2="431.38" y2="522.8" stroke="#e0e0e0" stroke-width="0.6" />
<line x1="307.3" y1="507.35" x2="462.4" y2="507.35" stroke="#e0e0e0" stroke-width="0.6" />
<line x1="307.3" y1="491.9" x2="462.4" y2="491.9" stroke="#e0e0e0" stroke-width="0.6" />
<line x1="307.3" y1="476.45" x2="462.4" y2="476.45" stroke="#e0e0e0" stroke-width="0.6" />
<line x1="307.3" y1="461" x2="462.4" y2="461" stroke="#e0e0e0" stroke-width="0.6" />
<line x1="307.3" y1="445.55" x2="462.4" y2="445.55" stroke="#e0e0e0" stroke-width="0.6" />
<line x1="307.3" y1="430.1" x2="462.4" y2="430.1" stroke="#e0e0e0" stroke-width="0.6" />
<line x1="307.3" y1="414.65" x2="462.4" y2="414.65" stroke="#e0e0e0" stroke-width="0.6" />
<line x1="307.3" y1="399.2" x2="462.4" y2="399.2" stroke="#e0e0e0" stroke-width="0.6" />
<line x1="307.3" y1="383.75" x2="462.4" y2="383.75" stroke="#e0e0e0" stroke-width="0.6" />
<line x1="307.3" y1="522.8" x2="462.4" y2="368.3" stroke="#bababa" stroke-width="1.4" />
<rect x="307.3" y="368.3" width="155.1" height="154.5" fill="none" stroke="#808080" stroke-width="0.7" />
<line x1="307.3" y1="522.8" x2="308.8" y2="522.8" stroke="#808080" stroke-width="0.5" />
<line x1="460.9" y1="522.8" x2="462.4" y2="522.8" stroke="#808080" stroke-width="0.5" />
<text x="302.3" y="523.3" font-size="4.1" fill="#262626" text-anchor="end" font-weight="normal" font-family='"Liberation Sans", Arial, sans-serif' stroke="#262626" stroke-width="0.12" >0</text>
<line x1="307.3" y1="507.35" x2="308.8" y2="507.35" stroke="#808080" stroke-width="0.5" />
<line x1="460.9" y1="507.35" x2="462.4" y2="507.35" stroke="#808080" stroke-width="0.5" />
<text x="302.3" y="507.85" font-size="4.1" fill="#262626" text-anchor="end" font-weight="normal" font-family='"Liberation Sans", Arial, sans-serif' stroke="#262626" stroke-width="0.12" >0.1</text>
<line x1="307.3" y1="491.9" x2="308.8" y2="491.9" stroke="#808080" stroke-width="0.5" />
<line x1="460.9" y1="491.9" x2="462.4" y2="491.9" stroke="#808080" stroke-width="0.5" />
<text x="302.3" y="492.4" font-size="4.1" fill="#262626" text-anchor="end" font-weight="normal" font-family='"Liberation Sans", Arial, sans-serif' stroke="#262626" stroke-width="0.12" >0.2</text>
<line x1="307.3" y1="476.45" x2="308.8" y2="476.45" stroke="#808080" stroke-width="0.5" />
<line x1="460.9" y1="476.45" x2="462.4" y2="476.45" stroke="#808080" stroke-width="0.5" />
<text x="302.3" y="476.95" font-size="4.1" fill="#262626" text-anchor="end" font-weight="normal" font-family='"Liberation Sans", Arial, sans-serif' stroke="#262626" stroke-width="0.12" >0.3</text>
<line x1="307.3" y1="461" x2="308.8" y2="461" stroke="#808080" stroke-width="0.5" />
<line x1="460.9" y1="461" x2="462.4" y2="461" stroke="#808080" stroke-width="0.5" />
<text x="302.3" y="461.5" font-size="4.1" fill="#262626" text-anchor="end" font-weight="normal" font-family='"Liberation Sans", Arial, sans-serif' stroke="#262626" stroke-width="0.12" >0.4</text>
<line x1="307.3" y1="445.55" x2="308.8" y2="445.55" stroke="#808080" stroke-width="0.5" />
<line x1="460.9" y1="445.55" x2="462.4" y2="445.55" stroke="#808080" stroke-width="0.5" />
<text x="302.3" y="446.05" font-size="4.1" fill="#262626" text-anchor="end" font-weight="normal" font-family='"Liberation Sans", Arial, sans-serif' stroke="#262626" stroke-width="0.12" >0.5</text>
<line x1="307.3" y1="430.1" x2="308.8" y2="430.1" stroke="#808080" stroke-width="0.5" />
<line x1="460.9" y1="430.1" x2="462.4" y2="430.1" stroke="#808080" stroke-width="0.5" />
<text x="302.3" y="430.6" font-size="4.1" fill="#262626" text-anchor="end" font-weight="normal" font-family='"Liberation Sans", Arial, sans-serif' stroke="#262626" stroke-width="0.12" >0.6</text>
<line x1="307.3" y1="414.65" x2="308.8" y2="414.65" stroke="#808080" stroke-width="0.5" />
<line x1="460.9" y1="414.65" x2="462.4" y2="414.65" stroke="#808080" stroke-width="0.5" />
<text x="302.3" y="415.15" font-size="4.1" fill="#262626" text-anchor="end" font-weight="normal" font-family='"Liberation Sans", Arial, sans-serif' stroke="#262626" stroke-width="0.12" >0.7</text>
<line x1="307.3" y1="399.2" x2="308.8" y2="399.2" stroke="#808080" stroke-width="0.5" />
<line x1="460.9" y1="399.2" x2="462.4" y2="399.2" stroke="#808080" stroke-width="0.5" />
<text x="302.3" y="399.7" font-size="4.1" fill="#262626" text-anchor="end" font-weight="normal" font-family='"Liberation Sans", Arial, sans-serif' stroke="#262626" stroke-width="0.12" >0.8</text>
<line x1="307.3" y1="383.75" x2="308.8" y2="383.75" stroke="#808080" stroke-width="0.5" />
<line x1="460.9" y1="383.75" x2="462.4" y2="383.75" stroke="#808080" stroke-width="0.5" />
<text x="302.3" y="384.25" font-size="4.1" fill="#262626" text-anchor="end" font-weight="normal" font-family='"Liberation Sans", Arial, sans-serif' stroke="#262626" stroke-width="0.12" >0.9</text>
<line x1="307.3" y1="368.3" x2="308.8" y2="368.3" stroke="#808080" stroke-width="0.5" />
<line x1="460.9" y1="368.3" x2="462.4" y2="368.3" stroke="#808080" stroke-width="0.5" />
<text x="302.3" y="368.8" font-size="4.1" fill="#262626" text-anchor="end" font-weight="normal" font-family='"Liberation Sans", Arial, sans-serif' stroke="#262626" stroke-width="0.12" >1</text>
<line x1="307.3" y1="522.8" x2="307.3" y2="521.3" stroke="#808080" stroke-width="0.5" />
<line x1="307.3" y1="368.3" x2="307.3" y2="369.8" stroke="#808080" stroke-width="0.5" />
<text x="306.3" y="529.9" font-size="4.1" fill="#262626" text-anchor="middle" font-weight="normal" font-family='"Liberation Sans", Arial, sans-serif' stroke="#262626" stroke-width="0.12" >0</text>
<line x1="338.32" y1="522.8" x2="338.32" y2="521.3" stroke="#808080" stroke-width="0.5" />
<line x1="338.32" y1="368.3" x2="338.32" y2="369.8" stroke="#808080" stroke-width="0.5" />
<text x="337.32" y="529.9" font-size="4.1" fill="#262626" text-anchor="middle" font-weight="normal" font-family='"Liberation Sans", Arial, sans-serif' stroke="#262626" stroke-width="0.12" >0.2</text>
<line x1="369.34" y1="522.8" x2="369.34" y2="521.3" stroke="#808080" stroke-width="0.5" />
<line x1="369.34" y1="368.3" x2="369.34" y2="369.8" stroke="#808080" stroke-width="0.5" />
<text x="368.34" y="529.9" font-size="4.1" fill="#262626" text-anchor="middle" font-weight="normal" font-family='"Liberation Sans", Arial, sans-serif' stroke="#262626" stroke-width="0.12" >0.4</text>
<line x1="400.36" y1="522.8" x2="400.36" y2="521.3" stroke="#808080" stroke-width="0.5" />
<line x1="400.36" y1="368.3" x2="400.36" y2="369.8" stroke="#808080" stroke-width="0.5" />
<text x="399.36" y="529.9" font-size="4.1" fill="#262626" text-anchor="middle" font-weight="normal" font-family='"Liberation Sans", Arial, sans-serif' stroke="#262626" stroke-width="0.12" >0.6</text>
<line x1="431.38" y1="522.8" x2="431.38" y2="521.3" stroke="#808080" stroke-width="0.5" />
<line x1="431.38" y1="368.3" x2="431.38" y2="369.8" stroke="#808080" stroke-width="0.5" />
<text x="430.38" y="529.9" font-size="4.1" fill="#262626" text-anchor="middle" font-weight="normal" font-family='"Liberation Sans", Arial, sans-serif' stroke="#262626" stroke-width="0.12" >0.8</text>
<line x1="462.4" y1="522.8" x2="462.4" y2="521.3" stroke="#808080" stroke-width="0.5" />
<line x1="462.4" y1="368.3" x2="462.4" y2="369.8" stroke="#808080" stroke-width="0.5" />
<text x="461.4" y="529.9" font-size="4.1" fill="#262626" text-anchor="middle" font-weight="normal" font-family='"Liberation Sans", Arial, sans-serif' stroke="#262626" stroke-width="0.12" >1</text>
<polyline points="306.9,522.8 306.9,371 309.5,369.9 342.2,369.9" fill="none" stroke="#ff0000" stroke-width="1.5"  stroke-linejoin="round" />
<polyline points="307.8,522.8 307.8,470 308.7,450 308.7,370.4 310.6,368.3 462.4,368.3" fill="none" stroke="#0000ff" stroke-width="1.5"  stroke-linejoin="round" />
<text x="374.7" y="364.1" font-size="5.15" fill="#000" text-anchor="middle" font-weight="bold" font-family='"Liberation Sans", Arial, sans-serif' stroke="#000" stroke-width="0.12" >ROC (Proposed Method)</text>
<text x="377.3" y="544" font-size="5.1" fill="#000" text-anchor="middle" font-weight="bold" font-family='"Liberation Sans", Arial, sans-serif' stroke="#000" stroke-width="0.12" >False Positive Rate</text>
<text x="289.8" y="453" font-size="5.1" fill="#000" text-anchor="middle" font-weight="bold" font-family='"Liberation Sans", Arial, sans-serif' stroke="#000" stroke-width="0.12" transform="rotate(-90 289.8 453)">True Positive Rate</text>
<rect x="395.6" y="382.7" width="61.3" height="17.1" fill="#fff" stroke="#404040" stroke-width="0.5" />
<line x1="397.5" y1="386.9" x2="416" y2="386.9" stroke="#ff0000" stroke-width="1.8" />
<line x1="397.5" y1="395" x2="416" y2="395" stroke="#0000ff" stroke-width="1.8" />
<text x="417.4" y="388.4" font-size="4.0" fill="#000" text-anchor="start" font-weight="bold" font-family='"Liberation Sans", Arial, sans-serif' stroke="#000" stroke-width="0.12" >Class 1 (AML)</text>
<text x="417.4" y="396.5" font-size="4.0" fill="#000" text-anchor="start" font-weight="bold" font-family='"Liberation Sans", Arial, sans-serif' stroke="#000" stroke-width="0.12" >Class 2 (ALL)</text>
</g></svg>
</body></html>
